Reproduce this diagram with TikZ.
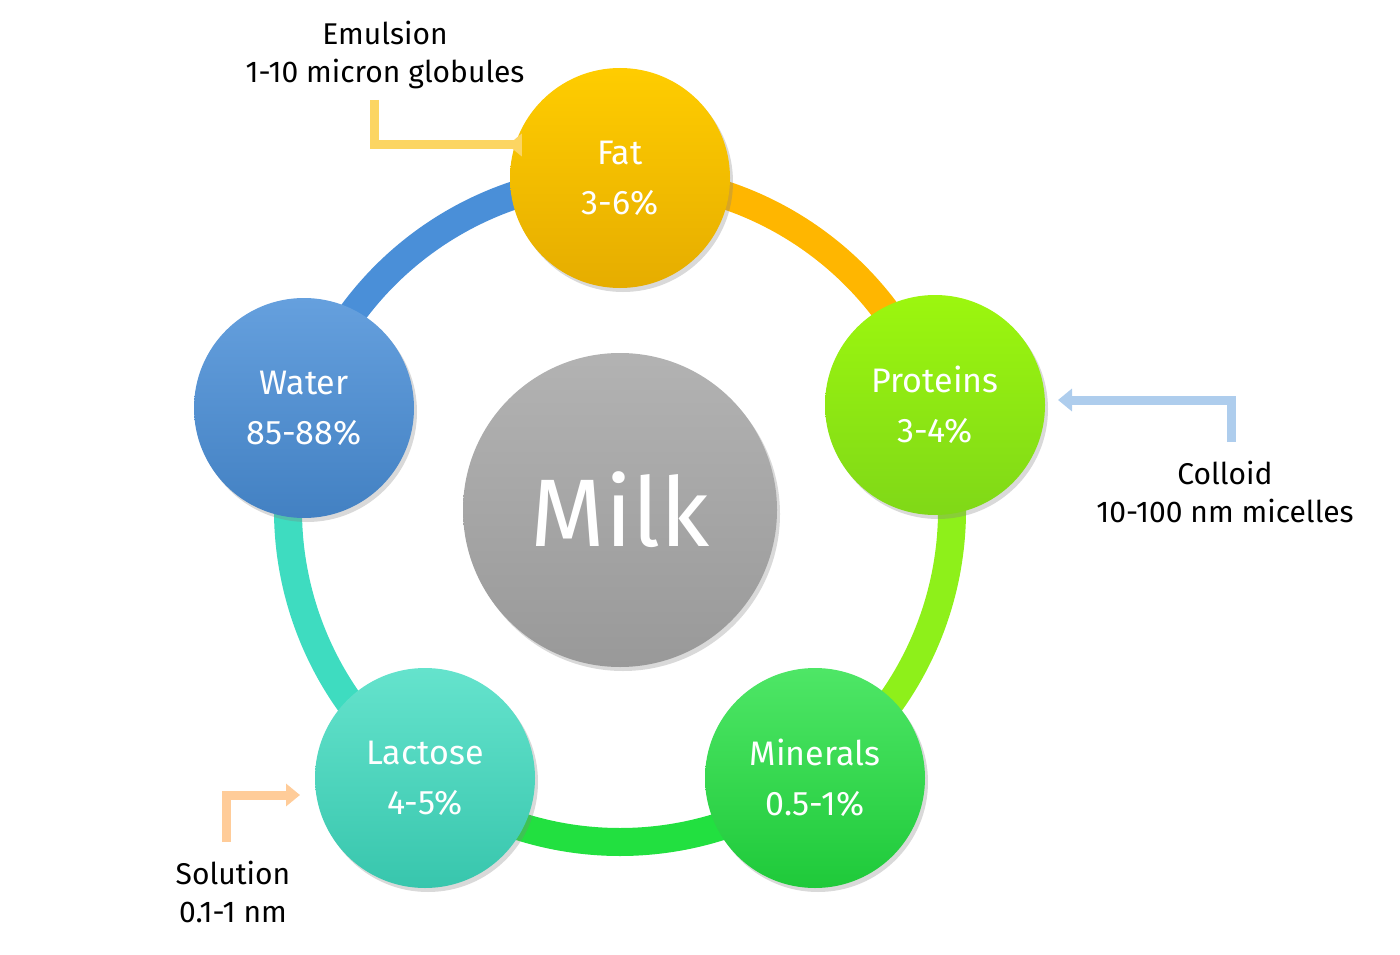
\documentclass[tikz,border=0pt]{standalone}
\usepackage{fontspec}
\setmainfont{Fira Sans}
\usetikzlibrary{shadows,arrows.meta}
\definecolor{cfat}{HTML}{FFC000}
\definecolor{cpro}{HTML}{8EF01A}
\definecolor{cmin}{HTML}{22E040}
\definecolor{clac}{HTML}{3EDCC0}
\definecolor{cwat}{HTML}{4A8FD8}
\tikzset{
 comp/.style={circle,minimum size=220pt,inner sep=0pt,text=white,font=\fontsize{34}{50}\selectfont,align=center,drop shadow={opacity=0.3,shadow xshift=3pt,shadow yshift=-4pt}},
 ring/.style={line width=28pt},
 lbl/.style={font=\fontsize{30}{38}\selectfont,align=center,text=black},
 ptr/.style={line width=9pt,-{Triangle[length=14pt,width=22pt]}}
}
\begin{document}
\begin{tikzpicture}[x=1pt,y=-1pt]
\useasboundingbox (0,0) rectangle (1400,955);
\coordinate (c) at (620,510);
\draw[ring,cfat!85!orange] (c) ++(-90:332) arc[start angle=-90,end angle=-18,radius=332];
\draw[ring,cpro] (c) ++(-18:332) arc[start angle=-18,end angle=54,radius=332];
\draw[ring,cmin] (c) ++(54:332) arc[start angle=54,end angle=126,radius=332];
\draw[ring,clac] (c) ++(126:332) arc[start angle=126,end angle=198,radius=332];
\draw[ring,cwat] (c) ++(198:332) arc[start angle=198,end angle=270,radius=332];
\node[comp,minimum size=314pt,top color=gray!60,bottom color=gray!80,font=\fontsize{96}{100}\selectfont] (milk) at (c) {Milk};
\node[comp,top color=cfat!80!yellow,bottom color=cfat!90!black] (fat) at (620,178) {Fat\\3-6\%};
\node[comp,top color=cpro!80!green!70!yellow,bottom color=cpro!90!black] (pro) at (935,405) {Proteins\\3-4\%};
\node[comp,top color=cmin!80!white,bottom color=cmin!90!black] (min) at (815,778) {Minerals\\0.5-1\%};
\node[comp,top color=clac!80!white,bottom color=clac!90!black] (lac) at (425,778) {Lactose\\4-5\%};
\node[comp,top color=cwat!85!white,bottom color=cwat!90!black] (wat) at (304,408) {Water\\85-88\%};
\node[lbl] (emu) at (385,55) {Emulsion\\1-10 micron globules};
\node[lbl] (col) at (1225,492) {Colloid\\10-100 nm micelles};
\node[lbl] (sol) at (233,892) {Solution\\0.1-1 nm};
\coordinate (e0) at (374,100);
\coordinate (c0) at (1231,442);
\coordinate (s0) at (226,842);
\draw[ptr,yellow!50!orange!60] (e0) |- (fat.west |- 0,145) -- ++(-2,0);
\draw[ptr,cwat!45] (c0) |- (1058,400);
\draw[ptr,orange!40] (s0) |- (300,795);
\end{tikzpicture}
\end{document}
